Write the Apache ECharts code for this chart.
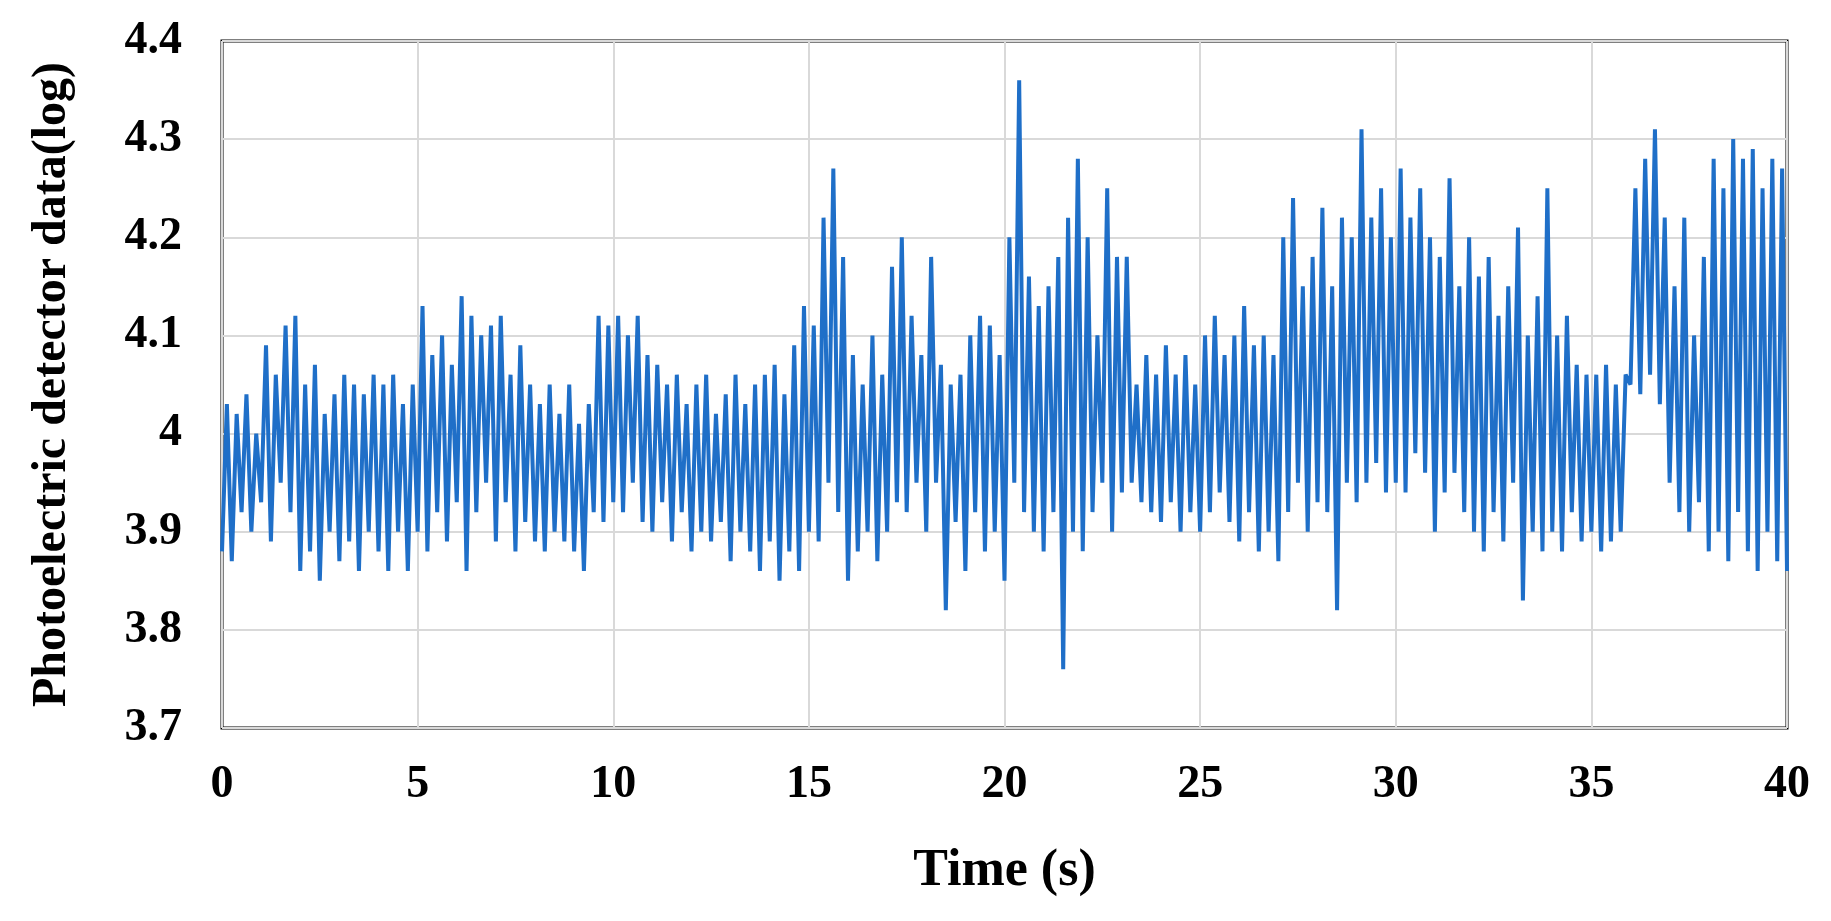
<!DOCTYPE html>
<html><head><meta charset="utf-8">
<script src="https://cdn.jsdelivr.net/npm/echarts@6/dist/echarts.min.js"></script>
<style>html,body{margin:0;padding:0;background:#fff}#c{width:1831px;height:921px}</style>
</head><body><div id="c"></div>
<script>
const timeStep = 0.125;
const yTicks = [3.7, 3.8, 3.9, 4.0, 4.1, 4.2, 4.3, 4.4];
const xTicks = [0, 5, 10, 15, 20, 25, 30, 35, 40];
const signal = [
3.88,4.03,3.87,4.02,3.92,4.04,3.90,4.00,
3.93,4.09,3.89,4.06,3.95,4.11,3.92,4.12,
3.86,4.05,3.88,4.07,3.85,4.02,3.90,4.04,
3.87,4.06,3.89,4.05,3.86,4.04,3.90,4.06,
3.88,4.05,3.86,4.06,3.90,4.03,3.86,4.05,
3.90,4.13,3.88,4.08,3.92,4.10,3.89,4.07,
3.93,4.14,3.86,4.12,3.92,4.10,3.95,4.11,
3.89,4.12,3.93,4.06,3.88,4.09,3.91,4.05,
3.89,4.03,3.88,4.05,3.90,4.02,3.89,4.05,
3.88,4.01,3.86,4.03,3.92,4.12,3.91,4.11,
3.93,4.12,3.92,4.10,3.95,4.12,3.91,4.08,
3.90,4.07,3.93,4.05,3.89,4.06,3.92,4.03,
3.88,4.05,3.90,4.06,3.89,4.02,3.91,4.04,
3.87,4.06,3.90,4.03,3.88,4.05,3.86,4.06,
3.89,4.07,3.85,4.04,3.88,4.09,3.86,4.13,
3.90,4.11,3.89,4.22,3.95,4.27,3.92,4.18,
3.85,4.08,3.88,4.05,3.90,4.10,3.87,4.06,
3.90,4.17,3.93,4.20,3.92,4.12,3.95,4.08,
3.90,4.18,3.95,4.07,3.82,4.05,3.91,4.06,
3.86,4.10,3.92,4.12,3.88,4.11,3.90,4.08,
3.85,4.20,3.95,4.36,3.92,4.16,3.90,4.13,
3.88,4.15,3.92,4.18,3.76,4.22,3.90,4.28,
3.88,4.20,3.92,4.10,3.95,4.25,3.90,4.18,
3.94,4.18,3.95,4.05,3.93,4.08,3.92,4.06,
3.91,4.09,3.93,4.06,3.90,4.08,3.92,4.05,
3.90,4.10,3.92,4.12,3.94,4.08,3.91,4.10,
3.89,4.13,3.92,4.09,3.88,4.10,3.90,4.08,
3.87,4.20,3.92,4.24,3.95,4.15,3.90,4.18,
3.93,4.23,3.92,4.15,3.82,4.22,3.95,4.20,
3.93,4.31,3.95,4.22,3.97,4.25,3.94,4.20,
3.95,4.27,3.94,4.22,3.98,4.25,3.96,4.20,
3.90,4.18,3.94,4.26,3.96,4.15,3.92,4.20,
3.90,4.16,3.88,4.18,3.92,4.12,3.89,4.15,
3.95,4.21,3.83,4.10,3.90,4.14,3.88,4.25,
3.90,4.10,3.88,4.12,3.92,4.07,3.89,4.06,
3.90,4.06,3.88,4.07,3.89,4.05,3.90,4.06,
4.05,4.25,4.04,4.28,4.06,4.31,4.03,4.22,
3.95,4.15,3.92,4.22,3.90,4.10,3.93,4.18,
3.88,4.28,3.90,4.25,3.87,4.30,3.92,4.28,
3.88,4.29,3.86,4.25,3.90,4.28,3.87,4.27,
3.86];
const pts = signal.map((v, i) => [i * timeStep, v]);
const font = '"Liberation Serif", serif';
const chart = echarts.init(document.getElementById('c'));
chart.setOption({
  animation: false,
  grid: {left: 222, right: 44, top: 41, bottom: 193, show: true, borderColor: '#000', borderWidth: 3},
  xAxis: {type: 'value', min: xTicks[0], max: xTicks[xTicks.length-1], interval: 5,
    name: 'Time (s)', nameLocation: 'middle', nameGap: 118,
    nameTextStyle: {fontFamily: font, fontWeight: 'bold', fontSize: 52, color: '#000'},
    axisLine: {show: false}, axisTick: {show: false},
    axisLabel: {fontFamily: font, fontWeight: 'bold', fontSize: 46, color: '#000', margin: 34},
    splitLine: {lineStyle: {color: '#d9d9d9', width: 2}}},
  yAxis: {type: 'value', min: yTicks[0], max: yTicks[yTicks.length-1], interval: 0.1,
    name: 'Photoelectric detector data(log)', nameLocation: 'middle', nameGap: 145,
    nameTextStyle: {fontFamily: font, fontWeight: 'bold', fontSize: 48, color: '#000'},
    axisLine: {show: false}, axisTick: {show: false},
    axisLabel: {fontFamily: font, fontWeight: 'bold', fontSize: 46, color: '#000', margin: 40,
      formatter: v => String(parseFloat(v.toFixed(1)))},
    splitLine: {lineStyle: {color: '#d9d9d9', width: 2}}},
  series: [{type: 'line', data: pts, showSymbol: false, lineStyle: {color: '#1f6fc8', width: 4}}]
});
</script></body></html>
